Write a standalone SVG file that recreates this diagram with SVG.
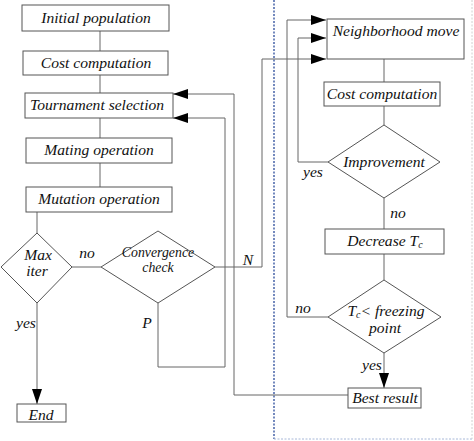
<svg xmlns="http://www.w3.org/2000/svg" width="474" height="441" viewBox="0 0 474 441" font-family="Liberation Serif, serif">
<style>
.box{fill:#fff;stroke:#555;stroke-width:1}
.ln{fill:none;stroke:#666;stroke-width:1}
.t{font-style:italic;font-size:15.6px;fill:#111;text-anchor:middle}
.sm{font-size:13.8px}
.s{font-size:10px}
</style>
<defs>
<marker id="ah" markerUnits="userSpaceOnUse" markerWidth="15" markerHeight="10" refX="15" refY="5" orient="auto">
<path d="M0,0 L15,5 L0,10 z" fill="#000"/>
</marker>
</defs>
<rect width="474" height="441" fill="#fff"/>
<g id="frame">
<line x1="274" y1="0" x2="274" y2="439" stroke="#2a4a9a" stroke-width="1.3" stroke-dasharray="2,1.5"/>
<line x1="274" y1="439" x2="472" y2="439" stroke="#a8b8d8" stroke-width="1" stroke-dasharray="2,1.5"/>
<line x1="472" y1="0" x2="472" y2="439" stroke="#d0d0d0" stroke-width="1" stroke-dasharray="2,1.5"/>
</g>
<g id="connectors">
<line class="ln" x1="100" y1="31" x2="100" y2="51"/>
<line class="ln" x1="100" y1="75" x2="100" y2="93"/>
<line class="ln" x1="100" y1="118" x2="100" y2="138"/>
<line class="ln" x1="100" y1="163" x2="100" y2="187"/>
<line class="ln" x1="37" y1="212" x2="37" y2="233"/>
<line class="ln" x1="72" y1="267" x2="101" y2="267"/>
<line class="ln" x1="37" y1="303" x2="37" y2="404" marker-end="url(#ah)"/>
<polyline class="ln" points="215,267 262,267 262,59 326,59" marker-end="url(#ah)"/>
<polyline class="ln" points="158,303 158,367 225,367 225,118 173,118" marker-end="url(#ah)"/>
<polyline class="ln" points="348,395 234,395 234,94 173,94" marker-end="url(#ah)"/>
<line class="ln" x1="384" y1="59" x2="384" y2="82"/>
<line class="ln" x1="384" y1="106" x2="384" y2="125"/>
<polyline class="ln" points="328,162 298,162 298,38 326,38" marker-end="url(#ah)"/>
<line class="ln" x1="384" y1="198" x2="384" y2="229"/>
<line class="ln" x1="384" y1="254" x2="384" y2="280"/>
<polyline class="ln" points="328,317 287,317 287,20 326,20" marker-end="url(#ah)"/>
<line class="ln" x1="384" y1="353" x2="384" y2="388" marker-end="url(#ah)"/>
<text class="t" x="87" y="258">no</text>
<text class="t" x="248" y="265">N</text>
<text class="t" x="26" y="328">yes</text>
<text class="t" x="147" y="328">P</text>
<text class="t" x="313" y="177">yes</text>
<text class="t" x="398" y="218">no</text>
<text class="t" x="303" y="313">no</text>
<text class="t" x="372" y="370">yes</text>
</g>
<g id="initial">
<rect class="box" x="22" y="5" width="147" height="26"/>
<text class="t" x="96" y="23">Initial population</text>
</g>
<g id="cost1">
<rect class="box" x="23" y="51" width="145" height="24"/>
<text class="t" x="96" y="68">Cost computation</text>
</g>
<g id="tournament">
<rect class="box" x="25" y="93" width="148" height="25"/>
<text class="t" x="97" y="110">Tournament selection</text>
</g>
<g id="mating">
<rect class="box" x="26" y="138" width="146" height="25"/>
<text class="t" x="99" y="155">Mating operation</text>
</g>
<g id="mutation">
<rect class="box" x="26" y="187" width="146" height="25"/>
<text class="t" x="99" y="204">Mutation operation</text>
</g>
<g id="maxiter">
<polygon class="box" points="37,233 72,267 37,303 1,267"/>
<text class="t" x="38" y="260">Max</text>
<text class="t" x="37" y="276">iter</text>
</g>
<g id="convergence">
<polygon class="box" points="158,231 215,267 158,303 101,267"/>
<text class="t sm" x="158" y="257">Convergence</text>
<text class="t sm" x="158" y="272">check</text>
</g>
<g id="end">
<rect class="box" x="17" y="404" width="49" height="18"/>
<text class="t" x="41" y="420">End</text>
</g>
<g id="neighborhood">
<rect class="box" x="327" y="19" width="137" height="40"/>
<text class="t" x="396" y="36">Neighborhood move</text>
</g>
<g id="cost2">
<rect class="box" x="324" y="82" width="116" height="24"/>
<text class="t" x="382" y="99">Cost computation</text>
</g>
<g id="improvement">
<polygon class="box" points="384,125 440,162 384,198 328,162"/>
<text class="t" x="384" y="167">Improvement</text>
</g>
<g id="decrease">
<rect class="box" x="325" y="229" width="119" height="25"/>
<text class="t" x="385" y="246">Decrease T<tspan class="s" dy="2">c</tspan></text>
</g>
<g id="freezing">
<polygon class="box" points="384,280 441,317 384,353 328,317"/>
<text class="t" x="386" y="316">T<tspan class="s" dy="2">c</tspan><tspan dy="-2">&lt; freezing</tspan></text>
<text class="t" x="385" y="333">point</text>
</g>
<g id="best">
<rect class="box" x="348" y="388" width="73" height="20"/>
<text class="t" x="385" y="403">Best result</text>
</g>
</svg>
